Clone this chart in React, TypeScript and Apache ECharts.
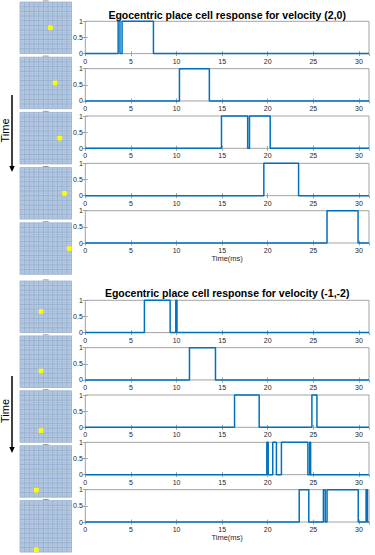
import React, { useEffect, useRef } from "react";
import * as echarts from "echarts";

// ---------- data ----------
const XMAX = 31.1;
const X_INTERVAL = 5;
const yTickLabels: Record<string, string> = { "0": "0", "0.5": "0.5", "1": "1" };

const titleA = "Egocentric place cell response for velocity (2,0)";
const titleB = "Egocentric place cell response for velocity (-1,-2)";
const xName = "Time(ms)";
const sideLabel = "Time";

// firing intervals [start, end] (ms) where response = 1
const pulsesA: number[][][] = [
  [[3.6, 3.8], [4.03, 7.47]],
  [[10.32, 13.6]],
  [[14.93, 17.8], [18.0, 20.27]],
  [[19.57, 23.38]],
  [[26.5, 29.9]],
];
const pulsesB: number[][][] = [
  [[6.48, 9.3], [9.92, 10.05]],
  [[11.42, 14.27]],
  [[16.36, 19.06], [24.84, 25.39]],
  [[19.9, 20.05], [20.55, 20.95], [21.5, 24.4], [24.6, 24.7]],
  [[23.45, 24.5], [26.1, 26.3], [26.5, 29.92], [30.78, 30.92]],
];

// yellow cell position (col,row) in an 11x11 grid for each snapshot
const cellsA: number[][] = [[6, 5], [7, 5], [8, 5], [9, 5], [10, 5]];
const cellsB: number[][] = [[4, 6], [4, 7], [4, 8], [3, 9], [3, 10]];

// ---------- helpers ----------
function stepData(pulses: number[][]): number[][] {
  const pts: number[][] = [[0, 0]];
  pulses.forEach(([a, b]) => {
    pts.push([a, 0], [a, 1], [b, 1], [b, 0]);
  });
  pts.push([XMAX, 0]);
  return pts;
}

const FONT = "Liberation Sans, Arial, sans-serif";
const BOX = "#a3a3a3";
const LINE = "#0072BD";

export default function App() {
  const ref = useRef<HTMLDivElement>(null);
  useEffect(() => {
    if (!ref.current) return;
    const chart = echarts.init(ref.current, null, { renderer: "svg" });

    const plotLeft = 85.3;
    const plotW = 283.7;
    const plotH = 32.3;
    const step = 47.35;
    const topsA = [0, 1, 2, 3, 4].map((i) => 21.3 + i * step);
    const topsB = [0, 1, 2, 3, 4].map((i) => 300.3 + i * step);
    const tops = [...topsA, ...topsB];
    const allPulses = [...pulsesA, ...pulsesB];

    const grid: any[] = [];
    const xAxis: any[] = [];
    const yAxis: any[] = [];
    const series: any[] = [];

    tops.forEach((top, i) => {
      grid.push({
        left: plotLeft,
        top,
        width: plotW,
        height: plotH,
        show: true,
        borderColor: BOX,
        borderWidth: 1,
        backgroundColor: "#fff",
      });
      const tick = { show: true, inside: true, length: 2.5, lineStyle: { color: BOX, width: 1 } };
      xAxis.push({
        gridIndex: i,
        type: "value",
        min: 0,
        max: XMAX,
        interval: X_INTERVAL,
        position: "bottom",
        axisLine: { show: false },
        axisTick: tick,
        splitLine: { show: false },
        axisLabel: {
          fontSize: 7,
          color: "#262626",
          fontFamily: FONT,
          margin: 4,
          showMaxLabel: false,
        },
      });
      xAxis.push({
        gridIndex: i,
        type: "value",
        min: 0,
        max: XMAX,
        interval: X_INTERVAL,
        position: "top",
        axisLine: { show: false },
        axisTick: tick,
        splitLine: { show: false },
        axisLabel: { show: false },
      });
      yAxis.push({
        gridIndex: i,
        type: "value",
        min: 0,
        max: 1,
        interval: 0.5,
        position: "left",
        axisLine: { show: false },
        axisTick: tick,
        splitLine: { show: false },
        axisLabel: {
          fontSize: 7,
          color: "#262626",
          fontFamily: FONT,
          margin: 2.5,
          formatter: (v: number) => yTickLabels[String(v)] ?? String(v),
        },
      });
      yAxis.push({
        gridIndex: i,
        type: "value",
        min: 0,
        max: 1,
        interval: 0.5,
        position: "right",
        axisLine: { show: false },
        axisTick: tick,
        splitLine: { show: false },
        axisLabel: { show: false },
      });
      series.push({
        type: "line",
        xAxisIndex: i * 2,
        yAxisIndex: i * 2,
        data: stepData(allPulses[i]),
        showSymbol: false,
        symbol: "none",
        clip: false,
        lineStyle: { color: LINE, width: 1.5 },
      });
    });

    // graphics: titles, axis names, snapshots, time arrows
    const graphic: any[] = [];
    const cx = plotLeft + plotW / 2;
    graphic.push(
      {
        type: "text",
        x: cx,
        y: 15,
        style: { text: titleA, font: `bold 10.5px ${FONT}`, fill: "#000", textAlign: "center", textVerticalAlign: "middle" },
      },
      {
        type: "text",
        x: cx,
        y: 293.3,
        style: { text: titleB, font: `bold 10.5px ${FONT}`, fill: "#000", textAlign: "center", textVerticalAlign: "middle" },
      },
      {
        type: "text",
        x: cx,
        y: topsA[4] + plotH + 15,
        style: { text: xName, font: `7.5px ${FONT}`, fill: "#262626", textAlign: "center", textVerticalAlign: "middle" },
      },
      {
        type: "text",
        x: cx,
        y: topsB[4] + plotH + 15,
        style: { text: xName, font: `7.5px ${FONT}`, fill: "#262626", textAlign: "center", textVerticalAlign: "middle" },
      }
    );

    const imgX = 20;
    const imgS = 51.5;
    const n = 11;
    const cell = imgS / n;
    const drawSnap = (y0: number, c: number[]) => {
      const children: any[] = [];
      children.push({ type: "rect", shape: { x: imgX, y: y0, width: imgS, height: imgS }, style: { fill: "#b8cce4" } });
      for (let k = 0; k <= n; k++) {
        const p = k * cell;
        children.push({ type: "line", shape: { x1: imgX + p, y1: y0, x2: imgX + p, y2: y0 + imgS }, style: { stroke: "#8ea8c9", lineWidth: 0.7 } });
        children.push({ type: "line", shape: { x1: imgX, y1: y0 + p, x2: imgX + imgS, y2: y0 + p }, style: { stroke: "#8ea8c9", lineWidth: 0.7 } });
        if (k < n) {
          const m = p + cell / 2;
          children.push({ type: "line", shape: { x1: imgX + m, y1: y0, x2: imgX + m, y2: y0 + imgS }, style: { stroke: "#a4bbd8", lineWidth: 0.5 } });
          children.push({ type: "line", shape: { x1: imgX, y1: y0 + m, x2: imgX + imgS, y2: y0 + m }, style: { stroke: "#a4bbd8", lineWidth: 0.5 } });
        }
      }
      children.push({
        type: "rect",
        shape: { x: imgX + c[0] * cell, y: y0 + c[1] * cell, width: cell, height: cell },
        style: { fill: "#ffff00" },
      });
      children.push({
        type: "rect",
        shape: { x: imgX + imgS / 2 - 3, y: y0 - 1.6, width: 6, height: 1 },
        style: { fill: "#9a9a9a" },
      });
      graphic.push({ type: "group", children });
    };
    cellsA.forEach((c, i) => drawSnap(2 + i * 55.2, c));
    cellsB.forEach((c, i) => drawSnap(281 + i * 54.9, c));

    const drawArrow = (y1: number, y2: number, ty: number) => {
      graphic.push(
        { type: "line", shape: { x1: 12, y1, x2: 12, y2: y2 - 5 }, style: { stroke: "#000", lineWidth: 1.5 } },
        { type: "polygon", shape: { points: [[9.3, y2 - 6], [14.7, y2 - 6], [12, y2]] }, style: { fill: "#000" } },
        {
          type: "text",
          x: 5,
          y: ty,
          rotation: Math.PI / 2,
          style: { text: sideLabel, font: `11px ${FONT}`, fill: "#000", textAlign: "center", textVerticalAlign: "middle" },
        }
      );
    };
    drawArrow(95, 172, 130.5);
    drawArrow(376, 453, 411);

    chart.setOption({
      animation: false,
      textStyle: { fontFamily: FONT },
      grid,
      xAxis,
      yAxis,
      series,
      graphic,
    });
    return () => chart.dispose();
  }, []);

  return (
    <div
      ref={ref}
      style={{ position: "absolute", left: 0, top: 0, width: 375, height: 555, background: "#fff" }}
    />
  );
}
